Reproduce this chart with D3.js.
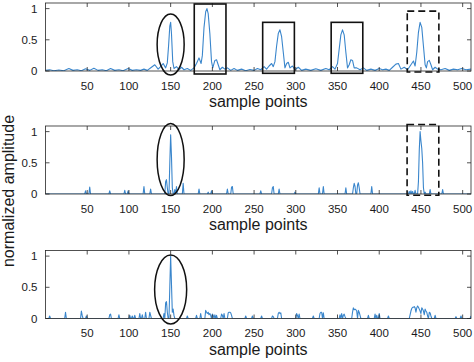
<!DOCTYPE html>
<html lang="en">
<head>
  <meta charset="UTF-8">
  <title>normalized amplitude</title>
  <script src="https://d3js.org/d3.v7.min.js"></script>
  <style>
    body { margin: 0; background: #fff; }
    text { font-family: "Liberation Sans", Arial, Helvetica, sans-serif; fill: #1a1a1a; }
  </style>
</head>
<body>
  <svg id="chart" width="474" height="362"></svg>
  <script>
    // x ticks and y ticks (shared by all three panels)
    const xTicks = [50, 100, 150, 200, 250, 300, 350, 400, 450, 500];
    const yTicks = [0, 0.5, 1];
    const xLabel = "sample points";
    const yLabel = "normalized amplitude";

    // panel 1: [sample, amplitude]
    const series1 = [[0,0.01],[5,0.02],[10,0.005],[16,0.015],[22,0.005],[28,0.04],[33,0.01],[38,0.02],[43,0.005],
      [48,0.035],[53,0.01],[58,0.045],[63,0.01],[68,0.02],[73,0.005],[78,0.04],[83,0.01],[88,0.02],[93,0.005],
      [99,0.04],[104,0.01],[109,0.02],[114,0.01],[118,0.03],[122,0.01],[127,0.06],[131,0.1],[135,0.03],[138,0.07],
      [141,0.12],[144,0.05],[146,0.13],[147.5,0.4],[149,0.72],[150,0.78],[151,0.6],[152.5,0.15],[154,0.04],
      [157,0.07],[160,0.02],[163,0.06],[166,0.02],[170,0.04],[174,0.01],[178,0.05],[181,0.12],[184,0.21],
      [186.5,0.12],[188,0.25],[190,0.7],[192,0.95],[193.5,1.0],[195,0.92],[197,0.6],[199,0.15],[200.5,0.05],
      [203,0.17],[205,0.18],[207,0.1],[209,0.02],[212,0.06],[215,0.03],[218,0.05],[222,0.01],[226,0.04],[230,0.01],
      [235,0.03],[240,0.005],[245,0.025],[250,0.01],[254,0.04],[258,0.02],[262,0.07],[265,0.03],[268,0.08],
      [271,0.12],[273,0.07],[275,0.15],[277,0.4],[279,0.6],[281,0.66],[283,0.55],[285,0.3],[287,0.05],[289,0.12],
      [291,0.14],[293,0.05],[296,0.08],[299,0.02],[303,0.06],[307,0.01],[312,0.03],[318,0.01],[324,0.035],
      [330,0.01],[336,0.04],[340,0.02],[344,0.07],[347,0.03],[350,0.12],[352,0.35],[354,0.58],[356,0.66],
      [358,0.58],[360,0.3],[362,0.05],[364,0.1],[366,0.18],[368,0.17],[370,0.05],[373,0.05],[377,0.02],[381,0.05],
      [385,0.01],[390,0.03],[395,0.01],[400,0.04],[404,0.02],[408,0.03],[412,0.01],[416,0.06],[420,0.11],
      [423,0.12],[426,0.03],[430,0.06],[434,0.02],[438,0.1],[441,0.16],[443,0.08],[445,0.3],[447,0.62],[449,0.78],
      [451,0.7],[453,0.4],[455,0.1],[456.5,0.05],[458,0.15],[460,0.17],[462,0.1],[464,0.02],[467,0.06],[470,0.03],
      [474,0.02],[479,0.04],[484,0.01],[489,0.03],[494,0.02],[499,0.04],[504,0.02],[510,0.03]];

    // panels 2 and 3 are sparse: listed samples, zero elsewhere
    const series2 = [[48,0.05],[53,0.11],[77,0.05],[95,0.06],[99,0.05],[118,0.12],[126,0.08],[144,0.2],[145,0.23],
      [146,0.1],[149,0.5],[150,0.95],[151,0.6],[152,0.1],[155,0.07],[157,0.12],[165,0.17],[184,0.08],[195,0.03],
      [199,0.05],[218,0.08],[223,0.11],[224,0.12],[258,0.05],[272,0.1],[273,0.12],[280,0.08],[299,0.03],[328,0.1],
      [333,0.12],[360,0.1],[369,0.1],[370,0.17],[371,0.12],[374,0.14],[375,0.18],[376,0.1],[391,0.12],[436,0.04],
      [438,0.05],[440,0.04],[443,0.06],[447,0.2],[448,0.7],[449,1.0],[450,0.85],[451,0.73],[452,0.5],[453,0.1],
      [455,0.03],[461,0.07],[476,0.07]];

    const series3 = [[5,0.04],[24,0.1],[43,0.12],[44,0.05],[49,0.04],[77,0.06],[78,0.07],[88,0.06],[101,0.05],
      [104,0.04],[107,0.05],[113,0.08],[116,0.06],[120,0.1],[125,0.1],[126,0.05],[142,0.08],[144,0.25],[145,0.27],
      [146,0.1],[149,0.5],[150,1.0],[151,0.55],[152,0.1],[153,0.15],[154,0.05],[170,0.04],[181,0.05],[186,0.08],
      [192,0.13],[193,0.1],[194,0.08],[195,0.1],[196,0.06],[197,0.08],[198,0.05],[200,0.07],[201,0.05],[203,0.06],
      [205,0.05],[211,0.07],[212,0.05],[214,0.08],[219,0.09],[220,0.1],[221,0.1],[222,0.09],[223,0.05],[240,0.04],
      [248,0.04],[259,0.04],[272,0.04],[273,0.03],[279,0.08],[280,0.1],[281,0.08],[282,0.09],[301,0.08],[302,0.05],
      [304,0.07],[321,0.04],[329,0.08],[330,0.1],[331,0.1],[333,0.09],[353,0.06],[355,0.08],[357,0.05],[358,0.07],
      [359,0.03],[368,0.1],[369,0.17],[370,0.14],[371,0.15],[372,0.14],[373,0.12],[375,0.13],[376,0.1],[377,0.05],
      [387,0.05],[395,0.07],[397,0.05],[400,0.08],[411,0.04],[437,0.06],[438,0.12],[439,0.16],[440,0.18],[441,0.18],
      [442,0.19],[443,0.17],[444,0.1],[445,0.17],[446,0.2],[447,0.18],[448,0.15],[449,0.12],[450,0.08],[451,0.17],
      [452,0.15],[453,0.12],[454,0.06],[455,0.15],[456,0.12],[457,0.1],[458,0.04],[460,0.1],[461,0.09],[462,0.04],
      [467,0.05],[492,0.03],[498,0.04],[510,0.04]];

    // annotations in data units: ellipses [cx, cy, rx, ry], boxes [x0, x1, y0, y1]
    const ellipses1 = [[150, 0.425, 16.2, 0.49]];
    const boxes1 = [[178.3, 216.3, -0.048, 1.074], [260.3, 298.3, -0.037, 0.78], [342.4, 380.3, -0.037, 0.78]];
    const dashed1 = [[433.6, 471.5, -0.016, 0.96]];
    const ellipses2 = [[150, 0.553, 16.2, 0.577]];
    const dashed2 = [[433.4, 471.4, -0.019, 1.114]];
    const ellipses3 = [[150, 0.465, 19.2, 0.553]];

    function dense(sparse) {
      const arr = d3.range(0, 511).map(i => [i, 0]);
      sparse.forEach(d => { arr[d[0]][1] = d[1]; });
      return arr;
    }

    const svg = d3.select("svg#chart");
    const left = 45.5, right = 471;
    const x = d3.scaleLinear().domain([0, 510]).range([left, right]);

    const panels = [
      { top: 3, data: series1, ellipses: ellipses1, boxes: boxes1, dashed: dashed1 },
      { top: 126, data: dense(series2), ellipses: ellipses2, boxes: [], dashed: dashed2 },
      { top: 250.5, data: dense(series3), ellipses: ellipses3, boxes: [], dashed: [] }
    ];
    const h = 68;

    panels.forEach(function (p, i) {
      const bottom = p.top + h;
      const y = d3.scaleLinear().domain([0, 1.09]).range([bottom, p.top]);
      const g = svg.append("g");

      // line (clipped to the axes box)
      const clipId = "clip" + i;
      svg.append("clipPath").attr("id", clipId).append("rect")
        .attr("x", left).attr("y", p.top).attr("width", right - left).attr("height", h);

      g.append("path")
        .datum(p.data)
        .attr("clip-path", "url(#" + clipId + ")")
        .attr("fill", "none")
        .attr("stroke", "#3a86cc")
        .attr("stroke-width", 1.1)
        .attr("stroke-linejoin", "round")
        .attr("d", d3.line().x(d => x(d[0])).y(d => y(d[1])));

      // axes box with inward ticks (MATLAB look)
      const ax = g.append("g").attr("stroke", "#262626").attr("stroke-width", 0.8);
      ax.append("rect").attr("x", left).attr("y", p.top).attr("width", right - left).attr("height", h)
        .attr("fill", "none");
      xTicks.forEach(t => {
        ax.append("line").attr("x1", x(t)).attr("x2", x(t)).attr("y1", bottom).attr("y2", bottom - 4);
        ax.append("line").attr("x1", x(t)).attr("x2", x(t)).attr("y1", p.top).attr("y2", p.top + 4);
      });
      yTicks.forEach(t => {
        ax.append("line").attr("x1", left).attr("x2", left + 4).attr("y1", y(t)).attr("y2", y(t));
        ax.append("line").attr("x1", right).attr("x2", right - 4).attr("y1", y(t)).attr("y2", y(t));
      });

      g.selectAll(".xt").data(xTicks).enter().append("text")
        .attr("x", d => x(d)).attr("y", bottom + 18.5)
        .attr("text-anchor", "middle").attr("font-size", 11.5)
        .text(d => d);
      g.selectAll(".yt").data(yTicks).enter().append("text")
        .attr("x", left - 8).attr("y", d => y(d) + 4)
        .attr("text-anchor", "end").attr("font-size", 11.5)
        .text(d => d);

      g.append("text")
        .attr("x", (left + right) / 2).attr("y", bottom + 36)
        .attr("text-anchor", "middle").attr("font-size", 16)
        .text(xLabel);

      // annotations
      p.ellipses.forEach(e => {
        g.append("ellipse")
          .attr("cx", x(e[0])).attr("cy", y(e[1]))
          .attr("rx", x(e[0] + e[2]) - x(e[0])).attr("ry", y(0) - y(e[3]))
          .attr("fill", "none").attr("stroke", "#111").attr("stroke-width", 1.5);
      });
      p.boxes.forEach(b => {
        g.append("rect")
          .attr("x", x(b[0])).attr("y", y(b[3]))
          .attr("width", x(b[1]) - x(b[0])).attr("height", y(b[2]) - y(b[3]))
          .attr("fill", "none").attr("stroke", "#111").attr("stroke-width", 1.6);
      });
      p.dashed.forEach(b => {
        g.append("rect")
          .attr("x", x(b[0])).attr("y", y(b[3]))
          .attr("width", x(b[1]) - x(b[0])).attr("height", y(b[2]) - y(b[3]))
          .attr("fill", "none").attr("stroke", "#111").attr("stroke-width", 1.6)
          .attr("stroke-dasharray", "7,4");
      });
    });

    // shared y label
    svg.append("text")
      .attr("transform", "rotate(-90)")
      .attr("x", -191).attr("y", 13.5)
      .attr("text-anchor", "middle").attr("font-size", 16)
      .text(yLabel);
  </script>
</body>
</html>
